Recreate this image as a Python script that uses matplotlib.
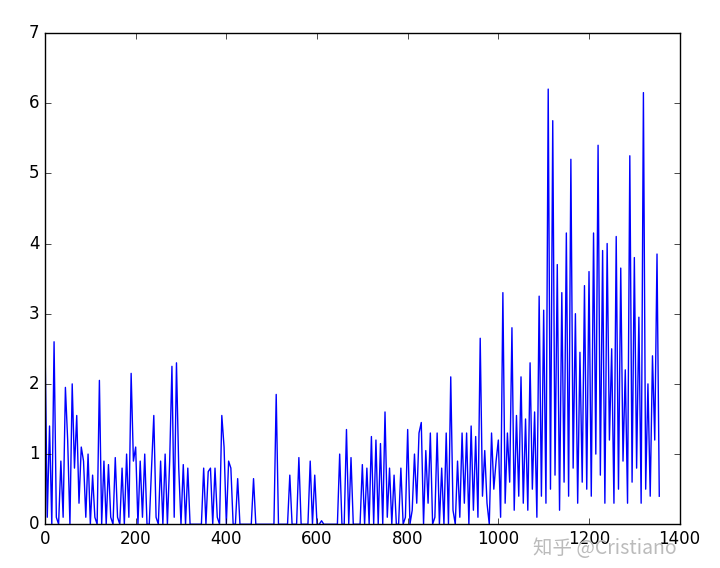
import matplotlib
matplotlib.use("Agg")
import matplotlib.pyplot as plt
import numpy as np

step = 5
values = [
2.6,0.1,1.4,0.0,2.6,0.1,0.0,0.9,0.1,1.95,1.2,0.0,2.0,0.8,1.55,0.3,1.1,0.9,0.1,1.0,
0.0,0.7,0.1,0.0,2.05,0.0,0.9,0.0,0.85,0.1,0.0,0.95,0.1,0.0,0.8,0.0,1.0,0.1,2.15,0.9,
1.1,0.0,0.9,0.1,1.0,0.0,0.0,0.8,1.55,0.1,0.0,0.9,0.0,1.0,0.0,0.9,2.25,0.1,2.3,0.8,
0.0,0.85,0.0,0.8,0.0,0.0,0.0,0.0,0.0,0.0,0.8,0.0,0.75,0.8,0.0,0.8,0.1,0.0,1.55,1.1,
0.0,0.9,0.8,0.0,0.0,0.65,0.0,0.0,0.0,0.0,0.0,0.0,0.65,0.0,0.0,0.0,0.0,0.0,0.0,0.0,
0.0,0.0,1.85,0.0,0.0,0.0,0.0,0.0,0.7,0.0,0.0,0.0,0.95,0.0,0.0,0.0,0.0,0.9,0.0,0.7,
0.0,0.0,0.05,0.0,0.0,0.0,0.0,0.0,0.0,0.0,1.0,0.0,0.0,1.35,0.0,0.95,0.0,0.0,0.0,0.0,
0.85,0.0,0.8,0.0,1.25,0.0,1.2,0.0,1.15,0.0,1.6,0.1,0.8,0.0,0.7,0.0,0.0,0.8,0.0,0.1,
1.35,0.0,0.2,1.0,0.3,1.3,1.45,0.0,1.05,0.3,1.3,0.0,0.1,1.3,0.0,0.8,0.0,1.3,0.0,2.1,
0.2,0.0,0.9,0.1,1.3,0.3,1.3,0.0,1.4,0.2,1.25,0.1,2.65,0.4,1.05,0.3,0.0,1.3,0.5,0.9,
1.2,0.1,3.3,0.3,1.3,0.6,2.8,0.2,1.55,0.4,2.1,0.3,1.5,0.2,2.3,0.5,1.6,0.1,3.25,0.4,
3.05,0.3,6.2,0.5,5.75,0.7,3.7,0.2,3.3,0.6,4.15,0.4,5.2,0.8,3.0,0.3,2.45,0.6,3.4,0.5,
3.6,0.4,4.15,1.0,5.4,0.7,3.9,0.3,4.0,1.2,2.5,0.3,4.1,0.5,3.65,0.9,2.2,0.3,5.25,0.6,
3.8,0.8,2.95,0.3,6.15,0.5,2.0,0.4,2.4,1.2,3.85,0.4,
]
xticks = [0, 200, 400, 600, 800, 1000, 1200, 1400]
yticks = [0, 1, 2, 3, 4, 5, 6, 7]

plt.style.use('classic')
fig = plt.figure(figsize=(7.2, 5.68), dpi=100, facecolor='white')
ax = fig.add_axes([0.0625, 0.077, 0.8815, 0.865])
x = np.arange(len(values)) * step
ax.plot(x, values, color='blue', lw=1)
ax.set_xlim(0, 1400)
ax.set_ylim(0, 7)
ax.set_xticks(xticks)
ax.set_yticks(yticks)
fig.text(0.74, 0.035, '知乎 @Cristiano', color='#bbbbbb', fontsize=14,
         family=['Noto Sans CJK SC', 'DejaVu Sans'], va='center')
fig.savefig('out.png', dpi=100, facecolor='white')
